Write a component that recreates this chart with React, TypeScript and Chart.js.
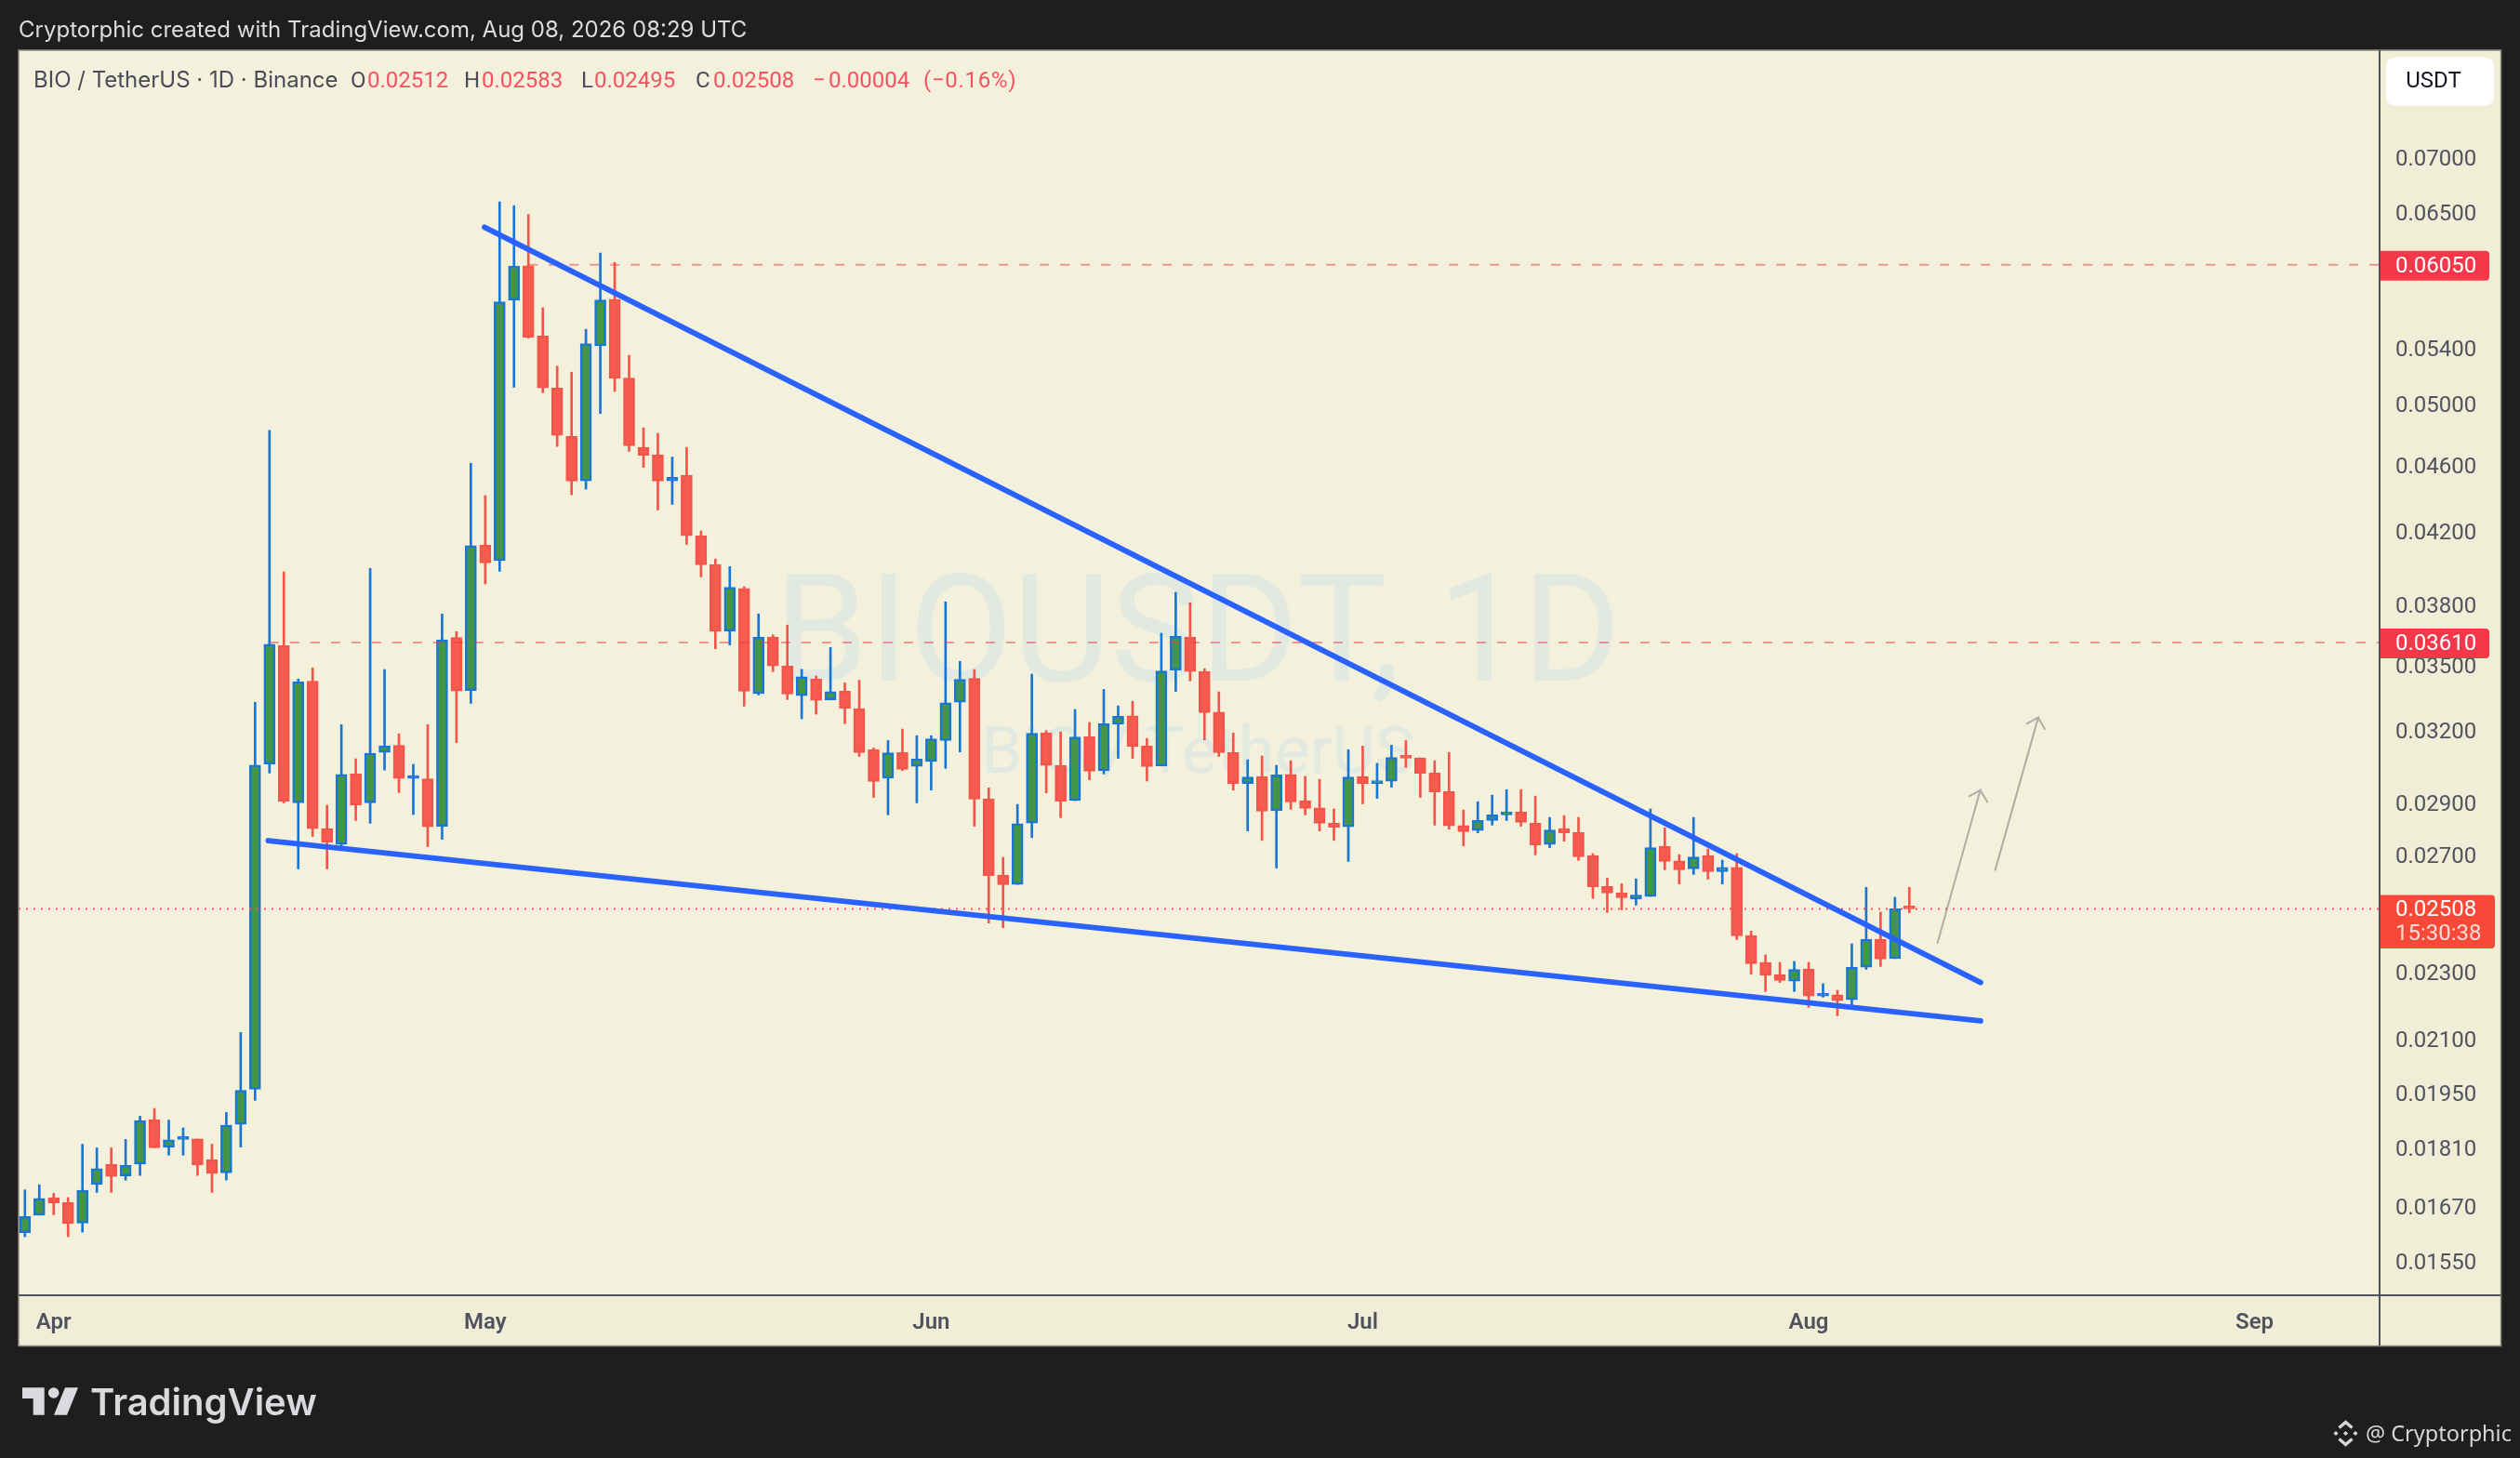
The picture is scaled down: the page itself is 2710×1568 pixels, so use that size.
import React, { useEffect, useRef } from "react";
import { Chart, registerables } from "chart.js";

Chart.register(...registerables);

const opens = [
  0.01611, 0.0165, 0.0169, 0.01679, 0.01632, 0.01721, 0.01769, 0.01741, 0.01769, 0.0188, 0.0181, 0.0183, 0.01831, 0.0178, 0.01748, 0.01868, 0.0196, 0.03057, 0.03594, 0.02899,
  0.03424, 0.02799, 0.02739, 0.03016, 0.02899, 0.03106, 0.03136, 0.02998, 0.02996, 0.02808, 0.03635, 0.0338, 0.04123, 0.04037, 0.05766, 0.06041, 0.05488, 0.05112, 0.04785, 0.04503,
  0.05416, 0.05772, 0.05182, 0.04713, 0.04666, 0.04503, 0.04537, 0.04177, 0.04016, 0.03667, 0.03887, 0.03366, 0.03637, 0.03496, 0.03357, 0.03435, 0.03337, 0.03377, 0.03298, 0.03118,
  0.02999, 0.03106, 0.03048, 0.03068, 0.03157, 0.03327, 0.03437, 0.02915, 0.02627, 0.02593, 0.0282, 0.03191, 0.03052, 0.02908, 0.03173, 0.03029, 0.03228, 0.03265, 0.03133, 0.03049,
  0.03476, 0.03637, 0.0347, 0.03282, 0.03106, 0.02977, 0.03006, 0.02868, 0.03014, 0.02908, 0.02879, 0.0282, 0.02806, 0.03006, 0.02977, 0.02986, 0.03084, 0.03083, 0.0302, 0.02944,
  0.02811, 0.02792, 0.0283, 0.02852, 0.02864, 0.0282, 0.02739, 0.02799, 0.02784, 0.02698, 0.02586, 0.02564, 0.02542, 0.02551, 0.02732, 0.02678, 0.02649, 0.02698, 0.02639, 0.02654,
  0.02418, 0.02331, 0.02292, 0.02272, 0.0231, 0.02226, 0.0223, 0.02215, 0.02316, 0.02406, 0.02343, 0.02512,
];
const highs = [
  0.01708, 0.0172, 0.017, 0.0169, 0.01818, 0.01809, 0.01809, 0.0183, 0.01889, 0.01909, 0.01879, 0.01859, 0.01831, 0.01818, 0.01899, 0.02118, 0.03326, 0.04824, 0.03976, 0.03434,
  0.03487, 0.0289, 0.03226, 0.03079, 0.03994, 0.03479, 0.03186, 0.03056, 0.03226, 0.03753, 0.03664, 0.04611, 0.04413, 0.06594, 0.06559, 0.06481, 0.05705, 0.05267, 0.05224, 0.05539,
  0.06148, 0.06069, 0.05346, 0.04841, 0.04805, 0.04652, 0.04713, 0.04204, 0.04046, 0.04004, 0.03896, 0.03754, 0.03648, 0.03697, 0.0348, 0.03448, 0.03585, 0.03416, 0.03428, 0.03125,
  0.03157, 0.03207, 0.03178, 0.03178, 0.03816, 0.03518, 0.03479, 0.02959, 0.02691, 0.02893, 0.03457, 0.032, 0.03195, 0.03294, 0.03236, 0.03386, 0.0331, 0.03331, 0.03166, 0.03656,
  0.03866, 0.03811, 0.03483, 0.03374, 0.0319, 0.03075, 0.03091, 0.03052, 0.03071, 0.03006, 0.02994, 0.02875, 0.03118, 0.03133, 0.0306, 0.03137, 0.03157, 0.03083, 0.03071, 0.03106,
  0.02871, 0.02904, 0.0293, 0.02952, 0.02952, 0.02926, 0.02842, 0.02849, 0.02842, 0.02705, 0.02616, 0.02596, 0.02613, 0.02875, 0.02802, 0.02701, 0.02842, 0.02722, 0.02681, 0.02705,
  0.02433, 0.02355, 0.02331, 0.02334, 0.02331, 0.02264, 0.02244, 0.02391, 0.02583, 0.02497, 0.02548, 0.02583,
];
const lows = [
  0.01602, 0.0165, 0.01651, 0.01602, 0.01612, 0.01702, 0.01702, 0.01731, 0.01742, 0.01809, 0.01791, 0.01791, 0.01742, 0.01702, 0.01731, 0.01811, 0.0193, 0.0302, 0.02899, 0.02649,
  0.02769, 0.02649, 0.02729, 0.0283, 0.02819, 0.03032, 0.0294, 0.02853, 0.02731, 0.02758, 0.03148, 0.03322, 0.03911, 0.03979, 0.05117, 0.05473, 0.05079, 0.04719, 0.04418, 0.04452,
  0.04937, 0.05088, 0.04688, 0.04586, 0.04327, 0.0436, 0.04128, 0.03949, 0.03579, 0.03598, 0.03309, 0.0336, 0.03469, 0.03339, 0.03252, 0.03273, 0.03337, 0.03231, 0.03089, 0.02921,
  0.02852, 0.0303, 0.02899, 0.0295, 0.03039, 0.03108, 0.02808, 0.0246, 0.02444, 0.02593, 0.02765, 0.02939, 0.02841, 0.02908, 0.02992, 0.03016, 0.03081, 0.03081, 0.02987, 0.03049,
  0.03376, 0.03425, 0.0316, 0.03089, 0.0295, 0.0279, 0.02754, 0.02652, 0.02874, 0.02852, 0.0279, 0.02754, 0.02676, 0.02895, 0.02917, 0.02962, 0.03043, 0.02921, 0.02812, 0.02797,
  0.02734, 0.02783, 0.02812, 0.0283, 0.02808, 0.027, 0.02727, 0.02751, 0.0268, 0.02544, 0.02496, 0.02505, 0.02521, 0.02551, 0.02646, 0.02595, 0.02629, 0.02612, 0.02595, 0.02405,
  0.02294, 0.0224, 0.02268, 0.0224, 0.02192, 0.02223, 0.02167, 0.02187, 0.02309, 0.02318, 0.02343, 0.02495,
];
const closes = [
  0.01647, 0.01688, 0.01678, 0.01631, 0.01707, 0.01758, 0.0174, 0.01766, 0.01878, 0.01809, 0.01829, 0.01831, 0.01767, 0.01747, 0.01866, 0.01957, 0.03053, 0.03601, 0.02906, 0.03422,
  0.02799, 0.02748, 0.03014, 0.0289, 0.03103, 0.03134, 0.02998, 0.03, 0.02806, 0.03623, 0.03378, 0.04121, 0.04025, 0.05752, 0.06037, 0.05479, 0.05112, 0.04791, 0.04501, 0.05431,
  0.05766, 0.05182, 0.04724, 0.04663, 0.04501, 0.04524, 0.04177, 0.04014, 0.03665, 0.03893, 0.03377, 0.03636, 0.03496, 0.03364, 0.03445, 0.03335, 0.03375, 0.03298, 0.03105, 0.02985,
  0.03105, 0.03035, 0.03078, 0.03164, 0.03324, 0.03433, 0.02914, 0.02625, 0.02592, 0.02818, 0.03189, 0.03051, 0.02906, 0.03172, 0.03027, 0.0323, 0.03263, 0.03132, 0.03047, 0.03472,
  0.0364, 0.03469, 0.0328, 0.03105, 0.02977, 0.03004, 0.02866, 0.03012, 0.02903, 0.02877, 0.02819, 0.02804, 0.03004, 0.02977, 0.02988, 0.03085, 0.03082, 0.03019, 0.02943, 0.02809,
  0.02787, 0.0283, 0.02852, 0.02864, 0.02823, 0.02737, 0.02794, 0.02783, 0.02693, 0.02585, 0.02563, 0.02547, 0.02556, 0.02727, 0.02676, 0.02646, 0.02693, 0.02639, 0.02654, 0.02417,
  0.02327, 0.02291, 0.02274, 0.02309, 0.02226, 0.02231, 0.02212, 0.02315, 0.02405, 0.02342, 0.02508, 0.02508,
];

const priceTicks = [0.07, 0.065, 0.054, 0.05, 0.046, 0.042, 0.038, 0.035, 0.032, 0.029, 0.027, 0.023, 0.021, 0.0195, 0.0181, 0.0167, 0.0155];
const monthLabels = ["Apr", "May", "Jun", "Jul", "Aug", "Sep"];
const monthIndexes = [2, 32, 63, 93, 124, 155];

const upperTrend = [{ x: 31.95, y: 0.06369 }, { x: 135.95, y: 0.02268 }];
const lowerTrend = [{ x: 16.92, y: 0.02753 }, { x: 135.95, y: 0.02152 }];
const arrowOne = [
  { x: 132.96, y: 0.02394 }, { x: 135.93, y: 0.0295 }, { x: 135.13, y: 0.02924 }, { x: 135.93, y: 0.0295 }, { x: 136.42, y: 0.02903 },
];
const arrowTwo = [
  { x: 136.97, y: 0.02645 }, { x: 139.96, y: 0.03258 }, { x: 139.12, y: 0.03229 }, { x: 139.96, y: 0.03258 }, { x: 140.41, y: 0.03207 },
];
const resistanceHigh = [{ x: 35, y: 0.0605 }, { x: 163.69, y: 0.0605 }];
const resistanceLow = [{ x: 17, y: 0.0361 }, { x: 163.69, y: 0.0361 }];
const lastPrice = [{ x: -0.44, y: 0.02508 }, { x: 163.69, y: 0.02508 }];

const DARK = "#1e1e1e";
const PANE = "#f3f0db";
const AXIS = "#f1eed8";
const UP = "#449647";
const UP_EDGE = "#1976d2";
const DOWN = "#f65b4f";
const DOWN_EDGE = "#f5544a";
const FONT = "Roboto, 'Liberation Sans', sans-serif";

const isUp = (i: number) => closes[i] >= opens[i];

function roundRect(ctx: CanvasRenderingContext2D, x: number, y: number, w: number, h: number, r: number[]) {
  ctx.beginPath();
  ctx.roundRect(x, y, w, h, r);
  ctx.fill();
}

const frame = {
  id: "frame",
  beforeDraw(chart: any) {
    const ctx: CanvasRenderingContext2D = chart.ctx;
    ctx.save();
    ctx.fillStyle = DARK;
    ctx.fillRect(0, 0, 2710, 1568);
    ctx.fillStyle = AXIS;
    ctx.fillRect(20, 54, 2669.5, 1393.5);
    ctx.fillStyle = PANE;
    ctx.fillRect(20, 54, 2539, 1339);
    ctx.restore();
  },
  beforeDatasetsDraw(chart: any) {
    const ctx: CanvasRenderingContext2D = chart.ctx;
    ctx.save();
    ctx.fillStyle = "#e1e9e0";
    ctx.textAlign = "center";
    ctx.textBaseline = "middle";
    ctx.font = `400 162px ${FONT}`;
    ctx.fillText("BIOUSDT, 1D", 1288, 691);
    ctx.font = `400 71px ${FONT}`;
    ctx.fillText("BIO / TetherUS", 1288, 813);
    ctx.restore();
  },
  afterDraw(chart: any) {
    const ctx: CanvasRenderingContext2D = chart.ctx;
    const y = chart.scales.y;
    ctx.save();
    // frame and axis rules
    ctx.strokeStyle = "#8b8a7e";
    ctx.lineWidth = 1.5;
    ctx.strokeRect(20, 54, 2669.5, 1393.5);
    ctx.fillStyle = "#50535e";
    ctx.fillRect(2558, 54, 2, 1393);
    ctx.fillRect(20, 1392, 2669, 2);

    // header
    ctx.textBaseline = "middle";
    ctx.textAlign = "left";
    ctx.fillStyle = "#dcdcdc";
    ctx.font = "400 24px Inter, sans-serif";
    ctx.fillText("Cryptorphic created with TradingView.com, Aug 08, 2026 08:29 UTC", 20, 33);

    // legend
    const ink = "#4a4d59";
    const red = "#f7525f";
    ctx.fillStyle = ink;
    ctx.fillText("BIO / TetherUS · 1D · Binance", 36, 87);
    const legend: [string, number, string][] = [
      ["O", 377, ink], ["0.02512", 395, red],
      ["H", 499, ink], ["0.02583", 518, red],
      ["L", 625, ink], ["0.02495", 639, red],
      ["C", 748, ink], ["0.02508", 767, red],
      ["−", 874, red], ["0.00004", 891, red],
    ];
    ctx.font = `400 24px ${FONT}`;
    legend.forEach(([t, x, c]) => {
      ctx.fillStyle = c;
      ctx.fillText(t, x, 88);
    });
    (ctx as any).letterSpacing = "0.7px";
    ctx.fillText("(−0.16%)", 993, 88);
    (ctx as any).letterSpacing = "0px";

    // unit box
    ctx.fillStyle = "#ffffff";
    roundRect(ctx, 2566, 61.5, 116, 52, [9, 9, 9, 9]);
    ctx.fillStyle = "#131722";
    ctx.textAlign = "center";
    ctx.fillText("USDT", 2617, 88);

    // price badges
    ctx.textAlign = "left";
    [0.0605, 0.0361].forEach((p) => {
      const py = y.getPixelForValue(p) + 1;
      ctx.fillStyle = "#f5374a";
      roundRect(ctx, 2560, py - 16, 117, 32, [0, 4, 4, 0]);
      ctx.fillStyle = "#ffffff";
      ctx.fillText(p.toFixed(5), 2576, py + 1);
    });
    const py = y.getPixelForValue(0.02508);
    ctx.fillStyle = "#f84837";
    roundRect(ctx, 2560, py - 15, 123, 57.5, [0, 4, 4, 0]);
    ctx.fillStyle = "#ffffff";
    ctx.fillText("0.02508", 2576, py + 2);
    ctx.fillStyle = "rgba(255,255,255,0.8)";
    ctx.fillText("15:30:38", 2576, py + 28);

    // TradingView mark
    ctx.fillStyle = "#d9dadd";
    ctx.beginPath();
    ctx.moveTo(24, 1492.3); ctx.lineTo(47.7, 1492.3); ctx.lineTo(47.7, 1521.7); ctx.lineTo(35.7, 1521.7); ctx.lineTo(35.7, 1504); ctx.lineTo(24, 1504);
    ctx.closePath();
    ctx.moveTo(70, 1492.3); ctx.lineTo(84, 1492.3); ctx.lineTo(72, 1521.7); ctx.lineTo(58, 1521.7);
    ctx.closePath();
    ctx.fill();
    ctx.beginPath();
    ctx.arc(57.7, 1498, 5.8, 0, Math.PI * 2);
    ctx.fill();
    ctx.font = "600 40px Inter, sans-serif";
    ctx.textBaseline = "alphabetic";
    ctx.fillText("TradingView", 97, 1522);

    // author tag
    ctx.fillStyle = "#d6d6d6";
    const cx = 2522.5, cy = 1541.5;
    const diamond = (dx: number, dy: number, r: number) => {
      ctx.beginPath();
      ctx.moveTo(cx + dx, cy + dy - r); ctx.lineTo(cx + dx + r, cy + dy); ctx.lineTo(cx + dx, cy + dy + r); ctx.lineTo(cx + dx - r, cy + dy);
      ctx.closePath();
      ctx.fill();
    };
    diamond(-10.5, 0, 2.6);
    diamond(10.5, 0, 2.6);
    diamond(0, 0, 2.6);
    ctx.strokeStyle = "#d6d6d6";
    ctx.lineWidth = 3.4;
    ctx.beginPath();
    ctx.moveTo(cx - 7, cy - 6); ctx.lineTo(cx, cy - 12); ctx.lineTo(cx + 7, cy - 6);
    ctx.moveTo(cx - 7, cy + 6); ctx.lineTo(cx, cy + 12); ctx.lineTo(cx + 7, cy + 6);
    ctx.stroke();
    ctx.font = "400 23.5px 'Noto Sans', 'Open Sans', sans-serif";
    ctx.textBaseline = "middle";
    ctx.fillText("@ Cryptorphic", 2544, 1543);
    ctx.restore();
  },
};

const lineBase = { type: "line", pointRadius: 0, fill: false, tension: 0 };

// Tick labels of the price axis sit slightly lower than Chart.js's middle baseline.
function nudgeLabels(scale: any, dy: number) {
  const original = scale._computeLabelItems;
  if (scale.__nudged) return;
  scale.__nudged = true;
  scale._computeLabelItems = function (area: any) {
    return original.call(scale, area).map((item: any) => ({
      ...item,
      options: {
        ...item.options,
        translation: [item.options.translation[0], item.options.translation[1] + dy],
      },
    }));
  };
}

export default function App() {
  const ref = useRef<HTMLCanvasElement | null>(null);
  useEffect(() => {
    if (!ref.current) return;
    const chart = new Chart(ref.current, {
      type: "bar",
      plugins: [frame],
      data: {
        datasets: [
          {
            ...lineBase, data: lowerTrend, borderColor: "#2962ff", borderWidth: 6, borderCapStyle: "round", order: 1,
          },
          {
            ...lineBase, data: upperTrend, borderColor: "#2962ff", borderWidth: 6, borderCapStyle: "round", order: 1,
          },
          {
            ...lineBase, data: arrowOne, borderColor: "rgba(130,130,130,0.6)", borderWidth: 2, borderCapStyle: "round", order: 1,
          },
          {
            ...lineBase, data: arrowTwo, borderColor: "rgba(130,130,130,0.6)", borderWidth: 2, borderCapStyle: "round", order: 1,
          },
          {
            ...lineBase, data: resistanceHigh, borderColor: "rgba(242,54,69,0.5)", borderWidth: 2, borderDash: [10, 12], order: 2,
          },
          {
            ...lineBase, data: resistanceLow, borderColor: "rgba(242,54,69,0.5)", borderWidth: 2, borderDash: [10, 12], order: 2,
          },
          {
            ...lineBase, data: lastPrice, borderColor: "#f7525f", borderWidth: 2, borderDash: [2, 6], order: 2,
          },
          {
            type: "bar",
            data: opens.map((o, i) => ({ x: i, y: [o, closes[i]] })),
            backgroundColor: opens.map((_, i) => (isUp(i) ? UP : DOWN)),
            borderColor: opens.map((_, i) => (isUp(i) ? UP_EDGE : DOWN_EDGE)),
            borderWidth: 2.5,
            borderSkipped: false,
            barThickness: 12,
            minBarLength: 3,
            grouped: false,
            order: 3,
          },
          {
            type: "bar",
            data: lows.map((l, i) => ({ x: i, y: [l, highs[i]] })),
            backgroundColor: opens.map((_, i) => (isUp(i) ? UP_EDGE : "#f65449")),
            borderWidth: 0,
            barThickness: 2,
            grouped: false,
            order: 4,
          },
        ] as any,
      },
      options: {
        responsive: false,
        animation: false,
        devicePixelRatio: 1,
        layout: { padding: { left: 20, top: 54, right: 20.5, bottom: 120.5 } },
        plugins: { legend: { display: false }, tooltip: { enabled: false } },
        scales: {
          x: {
            type: "linear",
            offset: false,
            min: -0.44,
            max: 163.69,
            grid: { display: false, drawTicks: false },
            border: { display: false },
            afterFit(s: any) { s.height = 54.5; },
            afterBuildTicks(s: any) { s.ticks = monthIndexes.map((value) => ({ value })); },
            ticks: {
              autoSkip: false,
              maxRotation: 0,
              padding: 15.5,
              color: "#50535e",
              font: { family: FONT, size: 24, weight: "600" },
              callback: (v: any) => monthLabels[monthIndexes.indexOf(Number(v))] ?? "",
            },
          },
          y: {
            type: "logarithmic",
            position: "right",
            min: 0.014788,
            max: 0.081122,
            grid: { display: false, drawTicks: false },
            border: { display: false },
            afterFit(s: any) { s.width = 130.5; nudgeLabels(s, 2.5); },
            afterBuildTicks(s: any) { s.ticks = priceTicks.map((value) => ({ value })); },
            ticks: {
              autoSkip: false,
              padding: 17,
              color: "#50535e",
              font: { family: FONT, size: 24 },
              callback: (v: any) => Number(v).toFixed(5),
            },
          },
        },
      } as any,
    } as any);
    return () => chart.destroy();
  }, []);
  return (
    <div style={{ position: "fixed", left: 0, top: 0, width: 2710, height: 1568, background: DARK }}>
      <canvas ref={ref} width={2710} height={1568} style={{ display: "block", width: 2710, height: 1568 }} />
    </div>
  );
}
